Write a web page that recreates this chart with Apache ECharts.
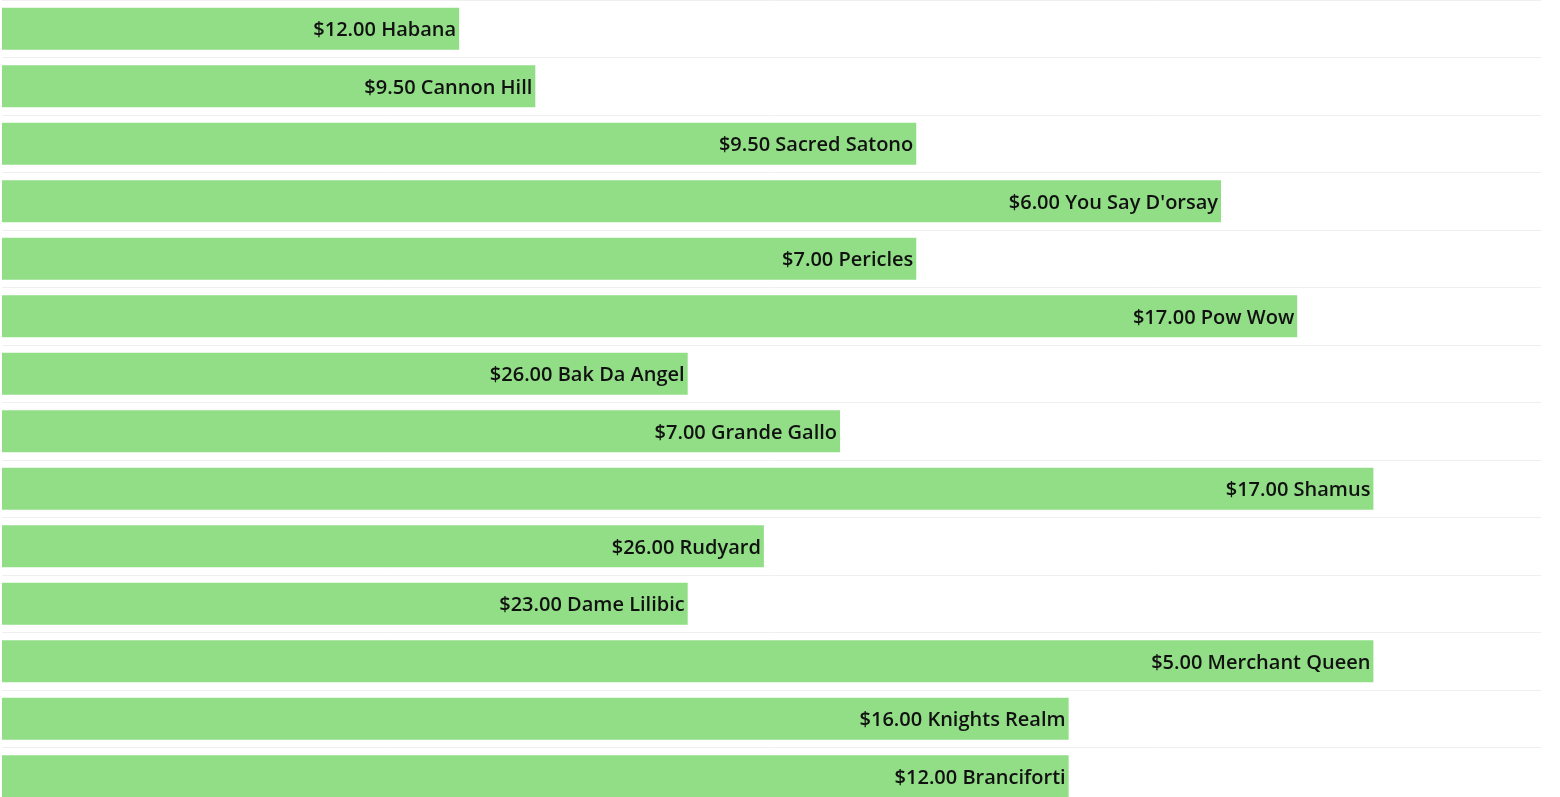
<!DOCTYPE html>
<html><head><meta charset="utf-8">
<script src="https://cdn.jsdelivr.net/npm/echarts@6/dist/echarts.min.js"></script>
<style>html,body{margin:0;padding:0;background:#fff;overflow:hidden;}#c{width:1560px;height:805px;}</style>
</head><body><div id="c"></div>
<script>
const names = ["Habana","Cannon Hill","Sacred Satono","You Say D'orsay","Pericles","Pow Wow","Bak Da Angel","Grande Gallo","Shamus","Rudyard","Dame Lilibic","Merchant Queen","Knights Realm","Branciforti"];
const prices = ["$12.00","$9.50","$9.50","$6.00","$7.00","$17.00","$26.00","$7.00","$17.00","$26.00","$23.00","$5.00","$16.00","$12.00"];
const values = [6,7,12,16,12,17,9,11,18,10,9,18,14,14];

const chart = echarts.init(document.getElementById('c'));
chart.setOption({
  animation:false,
  grid:{left:2,right:19,top:0,bottom:0,containLabel:false},
  xAxis:{type:'value',min:0,max:20.2,show:false},
  yAxis:{type:'category',data:names,inverse:true,
    axisLine:{show:false},axisTick:{show:false},axisLabel:{show:false},
    splitLine:{show:true,lineStyle:{color:'#efefef',width:1}}},
  series:[{type:'bar',data:values,barCategoryGap:'27%',
    itemStyle:{color:'#91de86'},
    label:{show:true,position:'insideRight',distance:3,offset:[0,2],
      fontFamily:'Open Sans',fontSize:20,fontWeight:600,color:'#111',
      formatter:p=>prices[p.dataIndex]+' '+names[p.dataIndex]}}]
});
</script></body></html>
